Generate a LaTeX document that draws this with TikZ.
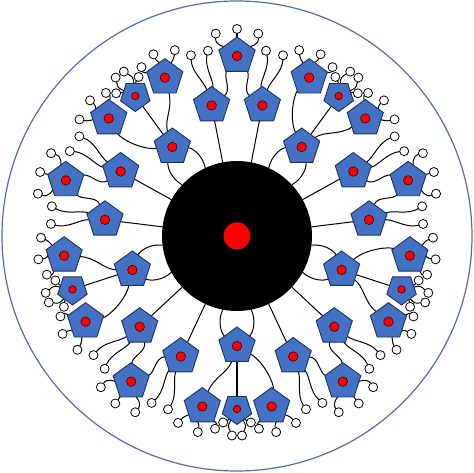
\documentclass[tikz,border=0pt]{standalone}
\usetikzlibrary{shapes.geometric}
\pgfdeclarelayer{background}
\pgfsetlayers{background,main}
\definecolor{pfill}{RGB}{68,114,196}
\definecolor{pline}{RGB}{30,50,95}
\definecolor{ringc}{RGB}{84,110,165}
\tikzset{
  pent/.style={regular polygon, regular polygon sides=5, minimum size=38pt,
    inner sep=0pt, outer sep=0pt, fill=pfill, draw=pline, line width=0.9pt},
  spent/.style={pent, minimum size=31pt, shape border rotate=180},
  rdot/.style={circle, fill=red, draw=black!75!red, line width=0.6pt,
    minimum size=9.5pt, inner sep=0pt},
  sdot/.style={rdot, minimum size=7.5pt},
  endc/.style={circle, fill=white, draw=black, line width=0.8pt,
    minimum size=9pt, inner sep=0pt, outer sep=0pt},
  bond/.style={draw=black, line width=1pt},
}
\begin{document}
\begin{tikzpicture}[x=1pt,y=1pt]
\useasboundingbox (-237,-237) rectangle (237,236);
\draw[ringc, line width=1.2pt] (0,0) circle (235);
\node[circle, fill=black, minimum size=150pt, inner sep=0pt, outer sep=0pt] (disk) at (0,0) {};
\node[circle, fill=red, minimum size=27pt, inner sep=0pt] (core) at (0,0) {};
\foreach \k in {0,...,4}{
  \pgfmathsetmacro{\g}{90+72*\k}
  \pgfmathsetmacro{\m}{\g+36}
  % pentagons
  \node[pent] (Oc\k) at (\g:180) {};
  \node[pent] (Oa\k) at ({\g+24.5}:174) {};
  \node[pent] (Ob\k) at ({\g-24.5}:174) {};
  \node[pent] (Ia\k) at ({\g+11}:133) {};
  \node[pent] (Ib\k) at ({\g-11}:133) {};
  \node[pent] (M\k) at (\m:110) {};
  \node[spent] (S\k) at (\m:173) {};
  % red dots
  \foreach \p in {Oc,Oa,Ob,Ia,Ib,M}{\node[rdot] (d\p\k) at (\p\k) {};}
  \node[sdot] (dS\k) at (S\k) {};
  % end circles
  \node[endc] (Cca\k) at ({\g+6}:203.5) {};
  \node[endc] (Ccb\k) at (\g:207) {};
  \node[endc] (Ccc\k) at ({\g-6}:203.5) {};
  \node[endc] (Iaa\k) at ({\g+14.3}:186.5) {};
  \node[endc] (Iab\k) at ({\g+8.9}:187.5) {};
  \node[endc] (Iba\k) at ({\g-14.3}:186.5) {};
  \node[endc] (Ibb\k) at ({\g-8.9}:187.5) {};
  \node[endc] (Oaa\k) at ({\g+18.5}:196) {};
  \node[endc] (Oab\k) at ({\g+24.7}:200) {};
  \node[endc] (Oac\k) at ({\g+29.5}:194) {};
  \node[endc] (Oba\k) at ({\g-18.5}:196) {};
  \node[endc] (Obb\k) at ({\g-24.7}:200) {};
  \node[endc] (Obc\k) at ({\g-29.5}:194) {};
  \node[endc] (Sa\k) at ({\m-4.25}:187) {};
  \node[endc] (Sb\k) at ({\m-1.45}:199.6) {};
  \node[endc] (Sc\k) at ({\m+1.45}:199.6) {};
  \node[endc] (Sd\k) at ({\m+4.25}:187) {};
  % attachment points on the disk
  \coordinate (dA\k) at ({\m-11}:75);
  \coordinate (dB\k) at ({\m+11}:75);
}
\begin{pgfonlayer}{background}
\foreach \k in {0,...,4}{
  \pgfmathsetmacro{\g}{90+72*\k}
  \pgfmathsetmacro{\m}{\g+36}
  \pgfmathtruncatemacro{\n}{mod(\k+1,5)}
  \draw[bond] (disk) -- (Ia\k);
  \draw[bond] (disk) -- (Ib\k);
  \draw[bond] (Oc\k) .. controls ({\g+5}:160) and ({\g+2}:146) .. (Ia\k);
  \draw[bond] (Oc\k) .. controls ({\g-5}:160) and ({\g-2}:146) .. (Ib\k);
  \draw[bond] (Ia\k) .. controls ({\g+12}:158) and ({\g+15.5}:170) .. (Iaa\k);
  \draw[bond] (Ia\k) .. controls ({\g+8.5}:158) and ({\g+11}:172) .. (Iab\k);
  \draw[bond] (Ib\k) .. controls ({\g-12}:158) and ({\g-15.5}:170) .. (Iba\k);
  \draw[bond] (Ib\k) .. controls ({\g-8.5}:158) and ({\g-11}:172) .. (Ibb\k);
  \draw[bond] (Oc\k) -- (Ccb\k);
  \draw[bond] (Oc\k) .. controls ({\g+4}:190) and ({\g+6.5}:192) .. (Cca\k);
  \draw[bond] (Oc\k) .. controls ({\g-4}:190) and ({\g-6.5}:192) .. (Ccc\k);
  \draw[bond] (Oa\k) .. controls ({\g+21}:185) and ({\g+19.5}:188) .. (Oaa\k);
  \draw[bond] (Oa\k) .. controls ({\g+23.8}:188) and ({\g+24.8}:192.8) .. (Oab\k);
  \draw[bond] (Oa\k) .. controls ({\g+29}:186.5) and ({\g+30}:189) .. (Oac\k);
  \draw[bond] (Ob\k) .. controls ({\g-21}:185) and ({\g-19.5}:188) .. (Oba\k);
  \draw[bond] (Ob\k) .. controls ({\g-23.8}:188) and ({\g-24.8}:192.8) .. (Obb\k);
  \draw[bond] (Ob\k) .. controls ({\g-29}:186.5) and ({\g-30}:189) .. (Obc\k);
  \draw[bond] (Oa\k) .. controls ({\g+26.6}:143) and ({\g+32.2}:137) .. (M\k);
  \draw[bond] (Ob\n) .. controls ({\g+50}:152.6) and ({\g+48.4}:129.6) .. (M\k);
  \draw[bond] (dA\k) .. controls ({\m-13}:88) and ({\m-9}:99) .. (M\k);
  \draw[bond] (dB\k) .. controls ({\m+13}:88) and ({\m+9}:99) .. (M\k);
  \draw[bond] (M\k) -- (S\k);
  \draw[bond] (S\k) .. controls ({\m-2.5}:184) .. (Sa\k);
  \draw[bond] (S\k) .. controls ({\m-2.8}:190) .. (Sb\k);
  \draw[bond] (S\k) .. controls ({\m+2.8}:190) .. (Sc\k);
  \draw[bond] (S\k) .. controls ({\m+2.5}:184) .. (Sd\k);
}
\end{pgfonlayer}
\end{tikzpicture}
\end{document}
